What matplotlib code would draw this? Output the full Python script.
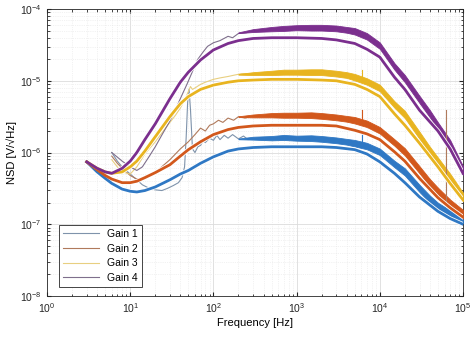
import numpy as np
import matplotlib
matplotlib.use("Agg")
import matplotlib.pyplot as plt

plt.rcParams['font.family'] = ['Liberation Sans', 'DejaVu Sans']
plt.rcParams['mathtext.default'] = 'regular'

# model curves (thick), log10 of NSD
model_f = [3, 4, 5, 6, 8, 10, 12, 15, 20, 30, 40, 50, 70, 100, 150, 200, 300, 500,
           1000, 2000, 3000, 5000, 7000, 1e4, 1.5e4, 2e4, 3e4, 5e4, 7e4, 1e5]
g1_model = [-6.13, -6.27, -6.36, -6.43, -6.51, -6.54, -6.55, -6.53, -6.48, -6.38, -6.30, -6.25, -6.15, -6.06,
            -5.98, -5.95, -5.93, -5.92, -5.92, -5.92, -5.93, -5.96, -6.02, -6.13, -6.29, -6.42, -6.62, -6.82, -6.92, -7.00]
g2_model = [-6.13, -6.24, -6.32, -6.37, -6.42, -6.42, -6.40, -6.35, -6.28, -6.17, -6.05, -5.96, -5.85, -5.75,
            -5.68, -5.65, -5.63, -5.62, -5.62, -5.62, -5.63, -5.69, -5.74, -5.82, -5.99, -6.12, -6.36, -6.63, -6.77, -6.90]
g3_model = [-6.13, -6.22, -6.27, -6.29, -6.27, -6.20, -6.12, -5.98, -5.78, -5.50, -5.32, -5.22, -5.12, -5.06,
            -5.02, -5.00, -4.99, -4.98, -4.98, -4.99, -5.00, -5.05, -5.12, -5.22, -5.46, -5.62, -5.87, -6.20, -6.43, -6.66]
g4_model = [-6.13, -6.22, -6.27, -6.29, -6.22, -6.12, -6.00, -5.82, -5.60, -5.25, -5.02, -4.88, -4.71, -4.57,
            -4.48, -4.44, -4.41, -4.40, -4.40, -4.41, -4.43, -4.48, -4.56, -4.67, -4.95, -5.12, -5.41, -5.70, -5.95, -6.29]

# measured, low frequency part (thin lines)
g1_low_f = [6, 7, 8, 10, 12, 14, 17, 20, 24, 28, 33, 38, 42, 45, 47, 49, 51, 53, 56, 60, 65, 70, 75, 80,
            90, 100, 110, 120, 135, 150, 170, 200, 230, 260, 300]
g1_low = [-6.00, -6.12, -6.20, -6.30, -6.38, -6.45, -6.50, -6.52, -6.53, -6.50, -6.46, -6.42, -6.35, -6.20,
          -5.80, -5.30, -5.12, -5.40, -5.95, -6.00, -5.92, -5.90, -5.84, -5.86, -5.80, -5.83, -5.76, -5.82,
          -5.76, -5.80, -5.75, -5.81, -5.77, -5.82, -5.80]
g2_low_f = [6, 7, 8, 10, 12, 15, 20, 25, 30, 40, 50, 60, 70, 80, 90, 100, 115, 130, 150, 175, 200, 240, 300]
g2_low = [-6.05, -6.15, -6.22, -6.32, -6.37, -6.36, -6.28, -6.18, -6.10, -5.95, -5.85, -5.75, -5.66, -5.70,
          -5.62, -5.60, -5.55, -5.58, -5.52, -5.55, -5.50, -5.52, -5.49]
g3_low_f = [6, 7, 8, 10, 12, 15, 20, 25, 30, 35, 40, 45, 50, 53, 56, 60, 70, 80, 100, 120, 150, 180, 220, 300]
g3_low = [-6.10, -6.20, -6.27, -6.30, -6.20, -6.02, -5.85, -5.70, -5.58, -5.48, -5.38, -5.27, -5.15, -5.08,
          -5.12, -5.10, -5.05, -5.02, -4.98, -4.96, -4.94, -4.92, -4.90, -4.90]
g4_low_f = [6, 8, 10, 12, 14, 17, 20, 25, 30, 35, 40, 48, 57, 65, 75, 85, 100, 120, 150, 170, 200, 250, 300]
g4_low = [-6.00, -6.12, -6.20, -6.25, -6.20, -6.05, -5.92, -5.72, -5.56, -5.40, -5.25, -5.05, -4.85, -4.70,
          -4.60, -4.52, -4.47, -4.44, -4.38, -4.40, -4.34, -4.33, -4.30]

# measured, high frequency part (noise band centre and half width)
band_f = [200, 300, 500, 700, 1000, 1500, 2000, 3000, 4000, 5000, 7000, 1e4, 1.5e4, 2e4, 3e4, 4e4, 5e4, 7e4, 1e5]
g1_band = [-5.81, -5.80, -5.80, -5.79, -5.80, -5.80, -5.81, -5.83, -5.85, -5.87, -5.91, -5.99, -6.16, -6.27,
           -6.50, -6.65, -6.75, -6.86, -6.93]
g2_band = [-5.50, -5.49, -5.48, -5.48, -5.48, -5.48, -5.49, -5.51, -5.53, -5.55, -5.60, -5.69, -5.86, -5.99,
           -6.24, -6.42, -6.54, -6.71, -6.86]
g3_band = [-4.91, -4.90, -4.89, -4.88, -4.88, -4.88, -4.88, -4.90, -4.92, -4.95, -5.01, -5.10, -5.33, -5.47,
           -5.76, -5.97, -6.12, -6.35, -6.62]
g4_band = [-4.33, -4.30, -4.28, -4.27, -4.26, -4.26, -4.26, -4.27, -4.29, -4.31, -4.38, -4.51, -4.80, -4.97,
           -5.26, -5.46, -5.63, -5.88, -6.25]
band_halfwidth = [0.005, 0.02, 0.03, 0.035, 0.035, 0.04, 0.04, 0.04, 0.04, 0.045, 0.045, 0.045, 0.045, 0.05,
                  0.05, 0.05, 0.05, 0.055, 0.06]

# line spikes: (frequency, base, top, gain index)
spikes = [(6100, -5.87, -5.71, 0), (6100, -5.56, -5.41, 1), (6100, -4.95, -4.85, 2), (63000, -6.68, -5.41, 1)]

labels = ['Gain 1', 'Gain 2', 'Gain 3', 'Gain 4']
colors = ['#2f78c4', '#d2581c', '#e8b420', '#7b2f8e']
thin_colors = ['#7f93ab', '#b07a5c', '#e8cf80', '#7f6f8c']

models = [g1_model, g2_model, g3_model, g4_model]
lows = [(g1_low_f, g1_low), (g2_low_f, g2_low), (g3_low_f, g3_low), (g4_low_f, g4_low)]
bands = [g1_band, g2_band, g3_band, g4_band]

fig = plt.figure(figsize=(4.74, 3.4), dpi=100)
ax = fig.add_axes([0.0992, 0.1294, 0.8776, 0.844])

for i in range(4):
    f, v = lows[i]
    ax.plot(f, 10 ** np.array(v), color=thin_colors[i], lw=0.8, label=labels[i], zorder=2)

for i in range(4):
    c = np.array(bands[i])
    w = np.array(band_halfwidth)
    ax.fill_between(band_f, 10 ** (c - w), 10 ** (c + w), color=colors[i], lw=0.6, edgecolor=colors[i], zorder=3)

for f, lo, hi, i in spikes:
    ax.plot([f, f], [10 ** lo, 10 ** hi], color=colors[i] if f < 10000 else thin_colors[i], lw=0.8, zorder=3)

for i in range(4):
    ax.plot(model_f, 10 ** np.array(models[i]), color='white', lw=3.2, zorder=4)
    ax.plot(model_f, 10 ** np.array(models[i]), color=colors[i], lw=2.0, zorder=5)

ax.set_xscale('log')
ax.set_yscale('log')
ax.set_xlim(1, 1e5)
ax.set_ylim(1e-8, 1e-4)
ax.set_xlabel('Frequency [Hz]', fontsize=8, labelpad=2)
ax.set_ylabel('NSD [V/√Hz]', fontsize=8, labelpad=2)

ax.grid(True, which='major', color='#dcdcdc', lw=0.6)
ax.grid(True, which='minor', color='#e6e6e6', lw=0.5, linestyle=':')
ax.set_axisbelow(True)
ax.tick_params(which='both', direction='in', top=True, right=True, labelsize=7.5, colors='#262626')
ax.tick_params(which='major', length=3, pad=4)
ax.tick_params(which='minor', length=1.8)
for s in ax.spines.values():
    s.set_color('#262626')
    s.set_linewidth(0.6)

leg = ax.legend(loc='lower left', bbox_to_anchor=(0.029, 0.031), borderaxespad=0, fontsize=7.5,
                handlelength=3.4, labelspacing=0.45, fancybox=False, framealpha=1, edgecolor='#262626')
leg.get_frame().set_linewidth(0.6)

fig.savefig('out.png', dpi=100)
